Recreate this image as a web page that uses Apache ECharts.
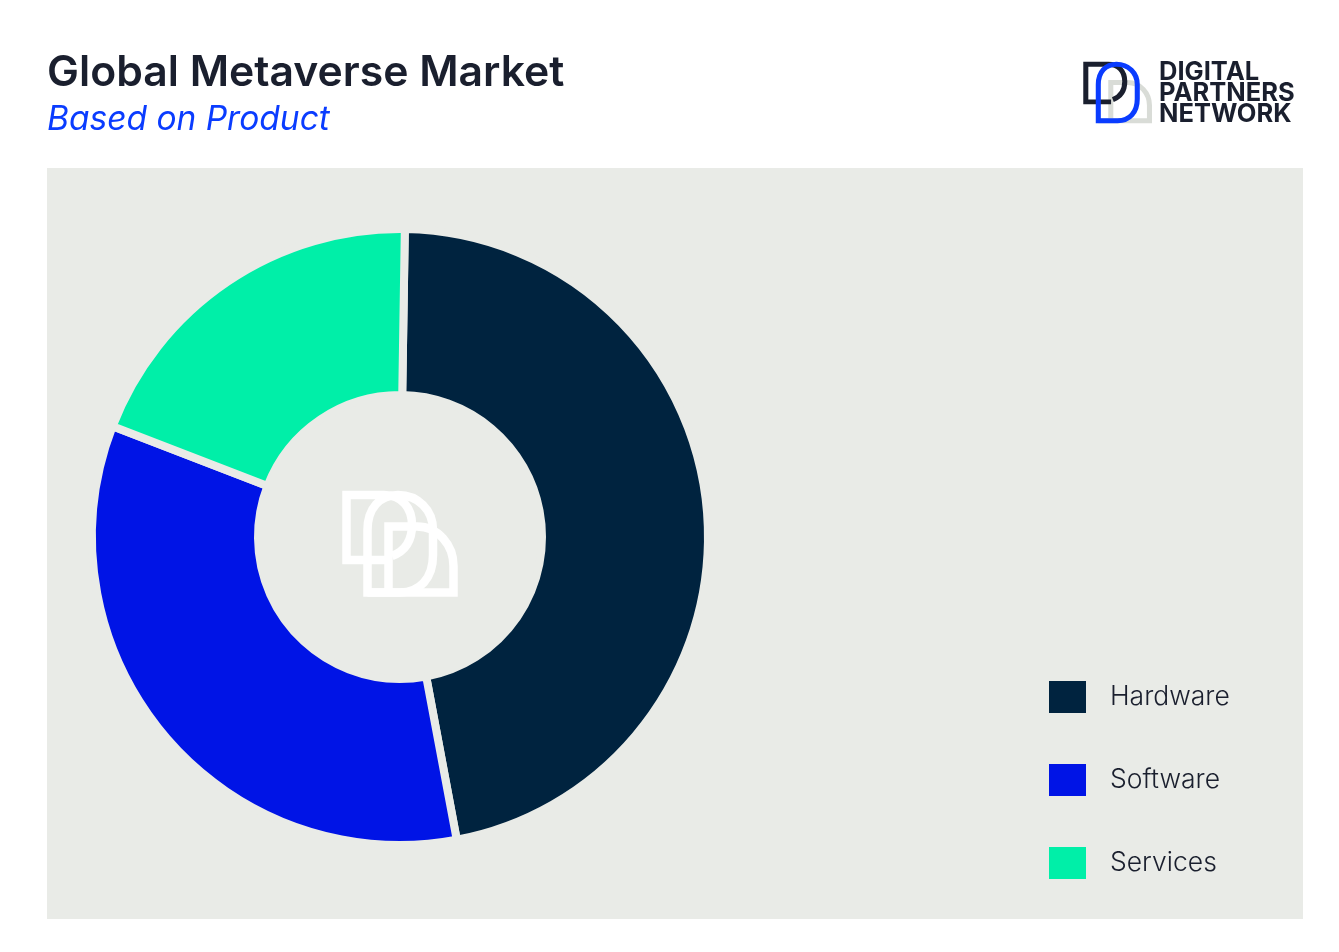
<!DOCTYPE html>
<html>
<head>
<meta charset="utf-8">
<title>Global Metaverse Market</title>
<style>
html, body { margin: 0; padding: 0; background: #fff; }
#pie-chart { width: 1339px; height: 952px; }
</style>
<script src="https://cdn.jsdelivr.net/npm/echarts@6/dist/echarts.min.js"></script>
</head>
<body>
<div id="pie-chart"></div>
<script>
var categories = ['Hardware', 'Software', 'Services'];
var shares = [46.8, 33.8, 19.4];
var colors = ['#00233f', '#0014e6', '#00efa8'];
var panelColor = '#e9ebe7';
var inkColor = '#1a1f2e';
var fontName = 'Inter';

// logo outlines, drawn in the coordinates of the big centre logo
var logoBack = 'M388.5 592.5V526.5H417C438 526.5 453.5 545 453.5 566V592.5H367.5';
var logoOpen = 'M392 556C408 550 412 538 412 525C412 508 402 495 384 495H346.5V560H389';
var logoArch = 'M367.5 592.5V530C367.5 508 380 495 398 495C418 495 433 510 433 530V555C433 578 420 592.5 400 592.5Z';

echarts.graphic.registerShape('logoBack', echarts.graphic.extendPath(logoBack));
echarts.graphic.registerShape('logoOpen', echarts.graphic.extendPath(logoOpen));
echarts.graphic.registerShape('logoArch', echarts.graphic.extendPath(logoArch));

function logoPiece(shapeName, color, width) {
    return {
        type: shapeName,
        style: { fill: 'none', stroke: color, lineWidth: width, lineJoin: 'miter' }
    };
}

var myChart = echarts.init(document.getElementById('pie-chart'));

var option = {
    animation: false,
    backgroundColor: '#fff',
    color: colors,
    title: {
        left: 47,
        top: 52,
        text: 'Global Metaverse Market',
        textStyle: { fontFamily: fontName, fontSize: 42.7, fontWeight: 600, color: inkColor },
        subtext: 'Based on Product',
        subtextStyle: { fontFamily: fontName, fontSize: 33.5, fontStyle: 'italic', fontWeight: 400, color: '#0a3cff' },
        itemGap: 8,
        padding: 0
    },
    legend: {
        orient: 'vertical',
        left: 1049,
        top: 681,
        padding: 0,
        itemWidth: 37,
        itemHeight: 32,
        itemGap: 51,
        icon: 'rect',
        selectedMode: false,
        data: categories,
        itemStyle: { borderWidth: 0 },
        textStyle: { fontFamily: fontName, fontSize: 26.5, fontWeight: 300, color: inkColor, padding: [0, 0, 0, 19] }
    },
    graphic: [
        {
            type: 'rect', z: -1,
            shape: { x: 47, y: 168, width: 1256, height: 751 },
            style: { fill: panelColor }
        },
        {
            type: 'group', z: 10,
            children: [
                logoPiece('logoBack', '#fff', 8.5),
                logoPiece('logoOpen', '#fff', 8.5),
                logoPiece('logoArch', '#fff', 8.5)
            ]
        },
        {
            type: 'group', z: 10,
            x: 1083.3, y: 61.7,
            scaleX: 0.595, scaleY: 0.58,
            children: [
                {
                    type: 'group',
                    x: -342.3, y: -490.7,
                    children: [
                        logoPiece('logoBack', '#d9dcd7', 8.5),
                        logoPiece('logoOpen', inkColor, 8.5),
                        logoPiece('logoArch', '#0a3cff', 8.5)
                    ]
                }
            ]
        },
        {
            type: 'text', x: 1159, y: 59,
            style: { text: 'DIGITAL', fontFamily: fontName, fontSize: 25.5, fontWeight: 700, fill: inkColor }
        },
        {
            type: 'text', x: 1159, y: 80,
            style: { text: 'PARTNERS', fontFamily: fontName, fontSize: 25.5, fontWeight: 700, fill: inkColor }
        },
        {
            type: 'text', x: 1159, y: 101,
            style: { text: 'NETWORK', fontFamily: fontName, fontSize: 25.5, fontWeight: 700, fill: inkColor }
        }
    ],
    series: [
        {
            name: 'Product',
            type: 'pie',
            center: [400, 537],
            radius: [142, 308],
            startAngle: 89.1,
            clockwise: true,
            silent: true,
            label: { show: false },
            labelLine: { show: false },
            itemStyle: { borderColor: panelColor, borderWidth: 8 },
            data: categories.map(function (name, i) {
                return { name: name, value: shares[i] };
            })
        }
    ]
};

myChart.setOption(option, true);
</script>
</body>
</html>
